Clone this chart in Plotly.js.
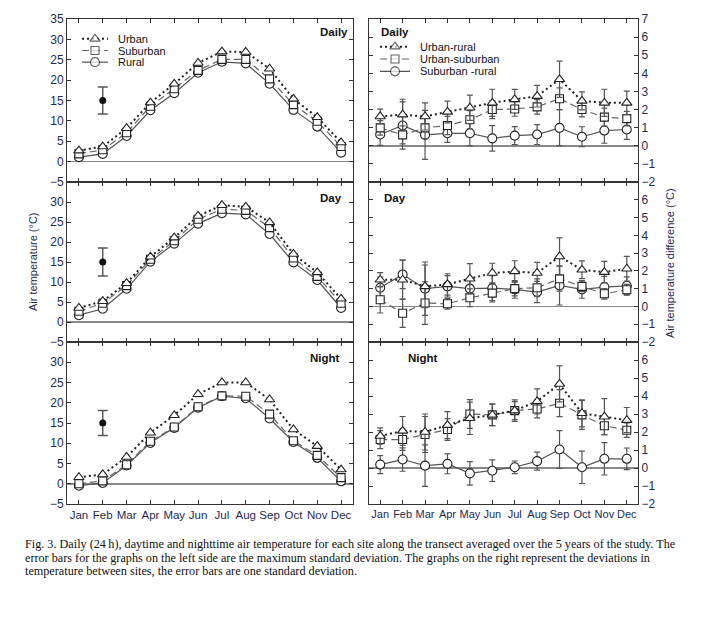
<!DOCTYPE html>
<html><head><meta charset="utf-8">
<script src="https://cdn.plot.ly/plotly-3.0.1.min.js"></script>
<style>html,body{margin:0;padding:0;background:#fff}#chart{width:707px;height:624px}</style>
</head><body><div id="chart"></div>
<script>
// ---------- data ----------
const months = ['Jan','Feb','Mar','Apr','May','Jun','Jul','Aug','Sep','Oct','Nov','Dec'];
const monthIdx = [1,2,3,4,5,6,7,8,9,10,11,12];

// left panels: air temperature (°C)
const dailyUrban    = [2.7, 3.7, 8.2, 14.5, 19.1, 24.2, 27.0, 26.9, 22.8, 15.4, 10.9, 4.7];
const dailySuburban = [1.9, 2.9, 7.1, 13.6, 17.9, 22.4, 25.1, 25.1, 20.3, 14.0, 9.9, 3.7];
const dailyRural    = [1.1, 1.9, 6.3, 12.6, 16.8, 21.8, 24.5, 24.1, 19.1, 12.7, 8.6, 2.2];

const dayUrban    = [3.5, 5.2, 9.7, 16.3, 21.1, 26.5, 29.2, 28.8, 24.9, 17.0, 12.4, 5.8];
const daySuburban = [2.7, 4.7, 9.1, 15.7, 20.3, 25.7, 28.2, 27.9, 23.6, 16.0, 11.4, 4.7];
const dayRural    = [1.7, 3.3, 8.3, 15.1, 19.6, 24.6, 27.2, 26.9, 22.0, 14.9, 10.5, 3.5];

const nightUrban    = [1.6, 2.3, 6.6, 12.6, 16.9, 22.1, 25.0, 25.0, 20.8, 13.4, 9.3, 3.5];
const nightSuburban = [0.0, 0.7, 4.7, 10.5, 14.0, 19.0, 21.7, 21.6, 17.2, 10.6, 7.0, 1.5];
const nightRural    = [-0.5, 0.2, 4.5, 10.1, 13.8, 18.8, 21.6, 21.1, 16.1, 10.3, 6.4, 0.6];

// maximum standard deviation markers (left panels)
const sdMonth = [2];
const sdValue = [15];
const sdDaily = [3.3], sdDay = [3.5], sdNight = [3.1];

// right panels: differences (°C) and one standard deviation
const dailyUR    = [1.62, 1.72, 1.62, 1.87, 2.10, 2.37, 2.56, 2.74, 3.67, 2.48, 2.37, 2.37];
const dailyURerr = [0.40, 0.85, 0.75, 0.60, 0.70, 0.75, 0.55, 0.60, 1.00, 0.50, 0.75, 0.65];
const dailyUS    = [0.99, 0.60, 0.99, 1.12, 1.44, 2.00, 2.03, 2.15, 2.60, 2.00, 1.58, 1.50];
const dailyUSerr = [0.40, 0.50, 0.60, 0.50, 0.50, 0.50, 0.40, 0.40, 0.60, 0.40, 0.50, 0.40];
const dailySR    = [0.62, 1.12, 0.60, 0.69, 0.69, 0.41, 0.56, 0.62, 0.99, 0.50, 0.84, 0.90];
const dailySRerr = [0.60, 1.30, 1.35, 0.50, 0.70, 0.70, 0.50, 0.55, 1.00, 0.55, 0.70, 0.55];

const dayUR    = [1.50, 1.50, 1.13, 1.24, 1.56, 1.88, 1.97, 1.88, 2.81, 2.06, 1.93, 2.12];
const dayURerr = [0.40, 1.10, 1.20, 0.60, 0.85, 0.55, 0.60, 0.60, 1.05, 0.50, 0.60, 0.70];
const dayUS    = [0.38, -0.38, 0.19, 0.15, 0.49, 0.75, 1.00, 1.05, 1.56, 1.13, 0.71, 0.94];
const dayUSerr = [0.75, 0.80, 1.20, 0.30, 0.50, 0.50, 0.40, 0.50, 0.70, 0.30, 0.30, 0.30];
const daySR    = [1.05, 1.80, 1.00, 1.13, 1.00, 1.03, 0.96, 0.81, 1.18, 0.96, 1.09, 1.16];
const daySRerr = [0.60, 0.80, 1.50, 0.60, 0.60, 0.70, 0.50, 0.60, 1.10, 0.50, 0.60, 0.50];

const nightUR    = [1.78, 2.06, 2.00, 2.38, 2.76, 2.95, 3.19, 3.70, 4.67, 3.04, 2.85, 2.66];
const nightURerr = [0.45, 0.80, 1.00, 0.75, 0.90, 0.60, 0.60, 0.70, 1.00, 0.75, 1.00, 0.70];
const nightUS    = [1.58, 1.58, 1.86, 2.14, 3.00, 2.95, 3.19, 3.28, 3.60, 2.95, 2.35, 2.10];
const nightUSerr = [0.50, 0.60, 1.00, 0.60, 0.80, 0.60, 0.50, 0.50, 0.75, 0.80, 0.50, 0.40];
const nightSR    = [0.19, 0.47, 0.13, 0.23, -0.30, -0.15, 0.04, 0.38, 1.03, 0.04, 0.51, 0.51];
const nightSRerr = [0.50, 0.65, 1.15, 0.55, 0.65, 0.60, 0.35, 0.50, 1.05, 0.90, 0.90, 0.60];

const leftNames  = ['Urban', 'Suburban', 'Rural'];
const rightNames = ['Urban-rural', 'Urban-suburban', 'Suburban -rural'];
const panelTitles = ['Daily', 'Day', 'Night'];
const leftTicks1 = [-5, 0, 5, 10, 15, 20, 25, 30, 35];
const leftTicks  = [-5, 0, 5, 10, 15, 20, 25, 30];
const rightTicks1 = [-2, -1, 0, 1, 2, 3, 4, 5, 6, 7];
const rightTicks  = [-2, -1, 0, 1, 2, 3, 4, 5, 6];
const legendRows = [2, 1, 0];

const caption = [
  'Fig. 3. Daily (24\u2009h), daytime and nighttime air temperature for each site along the transect averaged over the 5 years of the study. The',
  'error bars for the graphs on the left side are the maximum standard deviation. The graphs on the right represent the deviations in',
  'temperature between sites, the error bars are one standard deviation.'
];

// ---------- styles ----------
const W = 707, H = 624;
const xd = (a, b) => [a / W, b / W];
const yd = (top, bot) => [1 - bot / H, 1 - top / H];
const TXT = '#1f2a52';
const FONT = 'Liberation Sans, Arial, sans-serif';

const leftX = xd(67, 353), rightX = xd(369, 638);
const rows = [yd(19, 182), yd(182, 342), yd(342, 504)];

const styles = [
  {line: {color: '#222', width: 2, dash: '2px,3px'}, marker: {symbol: 'triangle-up', size: 9, color: '#fff', line: {color: '#222', width: 1.1}}},
  {line: {color: '#666', width: 1.2, dash: '7px,4px'}, marker: {symbol: 'square', size: 8, color: '#fff', line: {color: '#222', width: 1.1}}},
  {line: {color: '#555', width: 1.2}, marker: {symbol: 'circle', size: 9, color: '#fff', line: {color: '#222', width: 1.1}}}
];

const leftData = [
  [dailyUrban, dailySuburban, dailyRural],
  [dayUrban, daySuburban, dayRural],
  [nightUrban, nightSuburban, nightRural]
];
const rightData = [
  [[dailyUR, dailyURerr], [dailyUS, dailyUSerr], [dailySR, dailySRerr]],
  [[dayUR, dayURerr], [dayUS, dayUSerr], [daySR, daySRerr]],
  [[nightUR, nightURerr], [nightUS, nightUSerr], [nightSR, nightSRerr]]
];
const sdErr = [sdDaily, sdDay, sdNight];

const traces = [];
const layout = {
  width: W, height: H,
  margin: {l: 0, r: 0, t: 0, b: 0},
  paper_bgcolor: '#fff', plot_bgcolor: 'rgba(0,0,0,0)',
  showlegend: false,
  font: {family: FONT, size: 12, color: TXT},
  annotations: [], shapes: []
};

function axX(row, domain, anchor, fs) {
  return {
    domain: domain, anchor: anchor, range: [0.5, 12.5],
    tickvals: monthIdx, ticktext: months,
    showticklabels: row === 2, tickangle: 0,
    tickfont: {size: fs, color: TXT, family: FONT},
    ticks: 'inside', ticklen: 4, tickcolor: '#333', tickwidth: 1,
    showline: true, linecolor: '#333', linewidth: 1, mirror: 'ticks',
    showgrid: false, zeroline: false, fixedrange: true
  };
}
function axY(domain, anchor, range, tickvals, side) {
  return {
    domain: domain, anchor: anchor, range: range, side: side,
    tickvals: tickvals,
    tickfont: {size: 12, color: TXT, family: FONT},
    ticks: 'inside', ticklen: 4, tickcolor: '#333', tickwidth: 1,
    showline: true, linecolor: '#333', linewidth: 1, mirror: 'ticks',
    showgrid: false, zeroline: true, zerolinecolor: '#888', zerolinewidth: 1.5,
    fixedrange: true
  };
}

for (let r = 0; r < 3; r++) {
  const li = r + 1, ri = r + 4;
  const lx = 'x' + li, ly = 'y' + li, rx = 'x' + ri, ry = 'y' + ri;
  const lxk = li === 1 ? 'xaxis' : 'xaxis' + li;
  const lyk = li === 1 ? 'yaxis' : 'yaxis' + li;
  layout[lxk] = axX(r, leftX, ly, 11.5);
  layout[lyk] = axY(rows[r], lx, [-5, 35], r === 0 ? leftTicks1 : leftTicks, 'left');
  layout['xaxis' + ri] = axX(r, rightX, ry, 11);
  layout['yaxis' + ri] = axY(rows[r], rx, [-2, 7], r === 0 ? rightTicks1 : rightTicks, 'right');

  for (let s = 2; s >= 0; s--) {
    traces.push({
      type: 'scatter', mode: 'lines+markers', x: monthIdx, y: leftData[r][s],
      name: leftNames[s], xaxis: lx, yaxis: ly,
      line: styles[s].line, marker: styles[s].marker, cliponaxis: false
    });
  }
  traces.push({
    type: 'scatter', mode: 'markers', x: sdMonth, y: sdValue, xaxis: lx, yaxis: ly,
    marker: {symbol: 'circle', size: 7, color: '#111'},
    error_y: {type: 'data', array: sdErr[r], color: '#555', thickness: 1.4, width: 5}
  });
  for (let s = 2; s >= 0; s--) {
    traces.push({
      type: 'scatter', mode: 'lines+markers', x: monthIdx, y: rightData[r][s][0],
      name: rightNames[s], xaxis: rx, yaxis: ry,
      line: styles[s].line, marker: styles[s].marker, cliponaxis: false,
      error_y: {type: 'data', array: rightData[r][s][1], color: '#555', thickness: 1.2, width: 3}
    });
  }
}

const leftTitlePos = [[350, 32], [344, 198], [342, 358]];
const rightTitlePos = [[379, 32], [382, 198], [406, 358]];
for (let r = 0; r < 3; r++) {
  layout.annotations.push({
    xref: 'paper', yref: 'paper', x: leftTitlePos[r][0] / W, y: 1 - leftTitlePos[r][1] / H,
    xanchor: 'right', yanchor: 'middle', showarrow: false,
    text: '<b>' + panelTitles[r] + '</b>', font: {size: 11.5, color: '#111', family: FONT}
  });
  layout.annotations.push({
    xref: 'paper', yref: 'paper', x: rightTitlePos[r][0] / W, y: 1 - rightTitlePos[r][1] / H,
    xanchor: 'left', yanchor: 'middle', showarrow: false,
    text: '<b>' + panelTitles[r] + '</b>', font: {size: 11.5, color: '#111', family: FONT}
  });
}

// custom legends on small overlay axes
layout.xaxis7 = {domain: xd(82, 108), range: [0, 1], visible: false, fixedrange: true, anchor: 'y7'};
layout.yaxis7 = {domain: yd(33, 68), range: [-0.5, 2.5], visible: false, fixedrange: true, anchor: 'x7'};
layout.xaxis8 = {domain: xd(380, 410), range: [0, 1], visible: false, fixedrange: true, anchor: 'y8'};
layout.yaxis8 = {domain: yd(40.5, 77.5), range: [-0.5, 2.5], visible: false, fixedrange: true, anchor: 'x8'};
const legSets = [['x7', 'y7', leftNames], ['x8', 'y8', rightNames]];
legSets.forEach(([xa, ya, names]) => {
  for (let s = 0; s < 3; s++) {
    const row = legendRows[s];
    traces.push({
      type: 'scatter', mode: 'lines+markers', x: [0, 0.5, 1], y: [row, row, row],
      xaxis: xa, yaxis: ya, hoverinfo: 'skip', cliponaxis: false,
      line: styles[s].line,
      marker: Object.assign({}, styles[s].marker, {size: [0, styles[s].marker.size, 0]})
    });
    layout.annotations.push({
      xref: xa, yref: ya, x: 1, y: row, xanchor: 'left', yanchor: 'middle', xshift: 8,
      showarrow: false, text: names[s], font: {size: 11, color: '#111', family: FONT}
    });
  }
});

layout.annotations.push({
  xref: 'paper', yref: 'paper', x: 33 / W, y: 1 - 262 / H, textangle: -90,
  xanchor: 'center', yanchor: 'middle', showarrow: false,
  text: 'Air temperature (\u00B0C)', font: {size: 11, color: TXT, family: FONT}
});
layout.annotations.push({
  xref: 'paper', yref: 'paper', x: 670 / W, y: 1 - 263 / H, textangle: -90,
  xanchor: 'center', yanchor: 'middle', showarrow: false,
  text: 'Air temperature difference (\u00B0C)', font: {size: 11, color: TXT, family: FONT}
});

const capY = [544, 557.5, 571];
caption.forEach((t, i) => {
  layout.annotations.push({
    xref: 'paper', yref: 'paper', x: 23 / W, y: 1 - capY[i] / H,
    xanchor: 'left', yanchor: 'middle', showarrow: false,
    text: t, font: {size: 12.2, color: '#111', family: 'Liberation Serif, Times New Roman, serif'}
  });
});

Plotly.newPlot('chart', traces, layout, {staticPlot: true, displayModeBar: false});
</script>
</body></html>
